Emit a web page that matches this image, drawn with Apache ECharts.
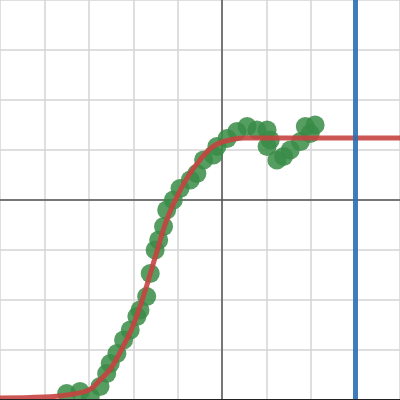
<!DOCTYPE html>
<html>
<head>
<meta charset="UTF-8">
<script src="https://cdn.jsdelivr.net/npm/echarts@6/dist/echarts.min.js"></script>
<style>html,body{margin:0;padding:0;background:#fff}</style>
</head>
<body>
<div id="chart" style="width:400px;height:400px;"></div>
<script>
// observed points (green)
var pointX = [-3.50,-3.20,-2.97,-2.75,-2.60,-2.52,-2.37,-2.22,-2.07,-1.92,-1.85,-1.70,-1.62,-1.51,-1.43,-1.32,-1.25,-1.10,-0.95,-0.72,-0.57,-0.42,-0.20,-0.12,0.11,0.33,0.56,0.78,1.01,1.08,1.01,1.23,1.38,1.53,1.76,1.87,2.09,1.98];
var pointY = [-3.87,-3.83,-3.93,-3.73,-3.47,-3.27,-3.07,-2.80,-2.60,-2.33,-2.20,-1.93,-1.47,-1.00,-0.80,-0.53,-0.20,0.00,0.23,0.40,0.53,0.80,0.90,1.07,1.23,1.37,1.47,1.40,1.40,1.20,1.07,0.80,0.87,1.00,1.17,1.47,1.50,1.33];
// fitted curve (red)
var curveX = [-5,-4,-3.5,-3,-2.75,-2.5,-2.25,-2,-1.75,-1.5,-1.25,-1,-0.75,-0.5,-0.25,0,0.5,1,2,3,4];
var curveY = [-3.96,-3.94,-3.9,-3.8,-3.6,-3.36,-2.96,-2.5,-1.86,-1.12,-0.4,0.1,0.5,0.8,1.04,1.16,1.24,1.24,1.24,1.24,1.24];
var markX = 3;
var floorY = -4;

var chart = echarts.init(document.getElementById('chart'));
chart.setOption({
    animation: false,
    grid: {left: 0, right: 0, top: 0, bottom: 0},
    xAxis: {
        type: 'value', min: -5, max: 4, interval: 1,
        axisLabel: {show: false}, axisTick: {show: false},
        axisLine: {show: true, onZero: true, lineStyle: {color: '#555', width: 1.5}},
        splitLine: {lineStyle: {color: '#d4d4d4', width: 1.5}}
    },
    yAxis: {
        type: 'value', min: -4, max: 4, interval: 1,
        axisLabel: {show: false}, axisTick: {show: false},
        axisLine: {show: true, onZero: true, lineStyle: {color: '#555', width: 1.5}},
        splitLine: {lineStyle: {color: '#d4d4d4', width: 1.5}}
    },
    series: [
        {
            type: 'scatter',
            data: pointX.map(function (x, i) { return [x, pointY[i]]; }),
            symbolSize: 19,
            itemStyle: {color: '#388c46', opacity: 0.85},
            z: 3
        },
        {
            type: 'line',
            data: curveX.map(function (x, i) { return [x, curveY[i]]; }),
            smooth: 0.4,
            showSymbol: false,
            lineStyle: {color: '#c74440', width: 5, opacity: 0.9},
            z: 4,
            markLine: {
                silent: true, symbol: 'none', label: {show: false},
                data: [
                    {xAxis: markX, lineStyle: {color: '#2d70b3', width: 5, type: 'solid', opacity: 0.9}},
                    {yAxis: floorY, lineStyle: {color: '#222', width: 3, type: 'solid'}}
                ]
            }
        }
    ]
});
</script>
</body>
</html>
